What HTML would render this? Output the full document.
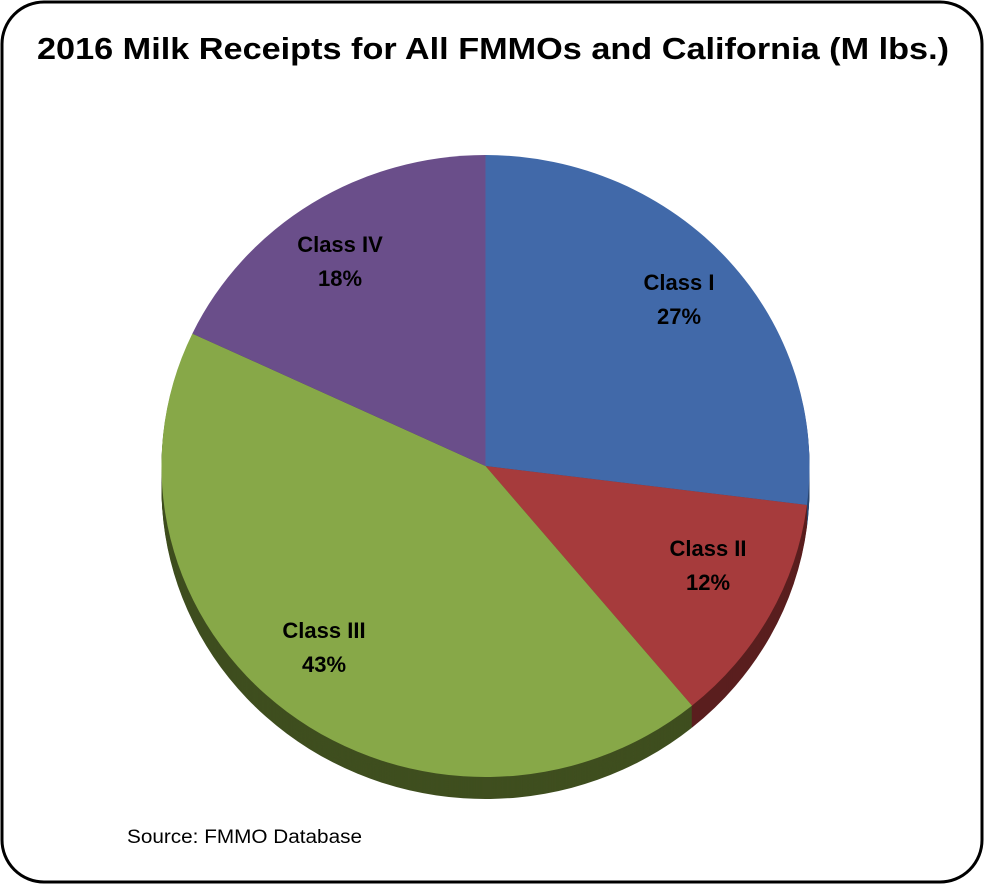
<!DOCTYPE html>
<html><head><meta charset="utf-8"><style>
html,body{margin:0;padding:0;background:#fff;}
svg{display:block;font-family:"Liberation Sans",sans-serif;}
</style></head><body>
<svg id="chart" width="985" height="885" viewBox="0 0 985 885">
<rect x="2" y="2" width="980" height="880" rx="42" ry="42" fill="#fff" stroke="#000" stroke-width="3"/>
<text x="37" y="59" font-size="31" font-weight="bold" textLength="912" lengthAdjust="spacingAndGlyphs">2016 Milk Receipts for All FMMOs and California (M lbs.)</text>
<g id="sides"></g>
<g id="slices"></g>
<g id="labels"></g>
<text x="127" y="843" font-size="19" textLength="235" lengthAdjust="spacingAndGlyphs">Source:  FMMO Database</text>
</svg>
<script>
const categories = ["Class I","Class II","Class III","Class IV"];
const values = [27,12,43,18];
const colors = ["#4169A9","#A63B3C","#87A848","#6A4E8A"];
const sideColors = ["#2b4670","#5a1f1f","#3f4e1f","#3a2a4d"];
const labelPos = [[679,290],[708,556],[324,638],[340,252]];
const cx=485.5, cy=466, rx=324, ry=311, depth=22;
const NS="http://www.w3.org/2000/svg";
const total=values.reduce((a,b)=>a+b,0);
function pt(a,dy){return [cx+rx*Math.sin(a), cy+dy-ry*Math.cos(a)];}
function arcPath(a0,a1,dy){
  const p0=pt(a0,dy),p1=pt(a1,dy);
  const large=(a1-a0)>Math.PI?1:0;
  return `M${cx},${cy+dy} L${p0[0]},${p0[1]} A${rx},${ry} 0 ${large} 1 ${p1[0]},${p1[1]} Z`;
}
const sides=document.getElementById('sides');
const slices=document.getElementById('slices');
const labels=document.getElementById('labels');
for(let d=depth; d>=1; d-=1){
  let a=0;
  values.forEach((v,i)=>{
    const a1=a+v/total*2*Math.PI;
    const p=document.createElementNS(NS,'path');
    p.setAttribute('d',arcPath(a,a1,d));
    p.setAttribute('fill',sideColors[i]);
    
    
    sides.appendChild(p);
    a=a1;
  });
}
let a=0;
values.forEach((v,i)=>{
  const a1=a+v/total*2*Math.PI;
  const p=document.createElementNS(NS,'path');
  p.setAttribute('d',arcPath(a,a1,0));
  p.setAttribute('fill',colors[i]);
  
  
  slices.appendChild(p);
  const t=document.createElementNS(NS,'text');
  t.setAttribute('x',labelPos[i][0]);
  t.setAttribute('y',labelPos[i][1]);
  t.setAttribute('text-anchor','middle');
  t.setAttribute('font-size','22');
  t.setAttribute('font-weight','bold');
  
  
  const s1=document.createElementNS(NS,'tspan');
  s1.setAttribute('x',labelPos[i][0]);s1.textContent=categories[i];
  const s2=document.createElementNS(NS,'tspan');
  s2.setAttribute('x',labelPos[i][0]);s2.setAttribute('dy','34');
  s2.textContent=Math.round(v/total*100)+'%';
  t.appendChild(s1);t.appendChild(s2);
  labels.appendChild(t);
  a=a1;
});
</script>
</body></html>
